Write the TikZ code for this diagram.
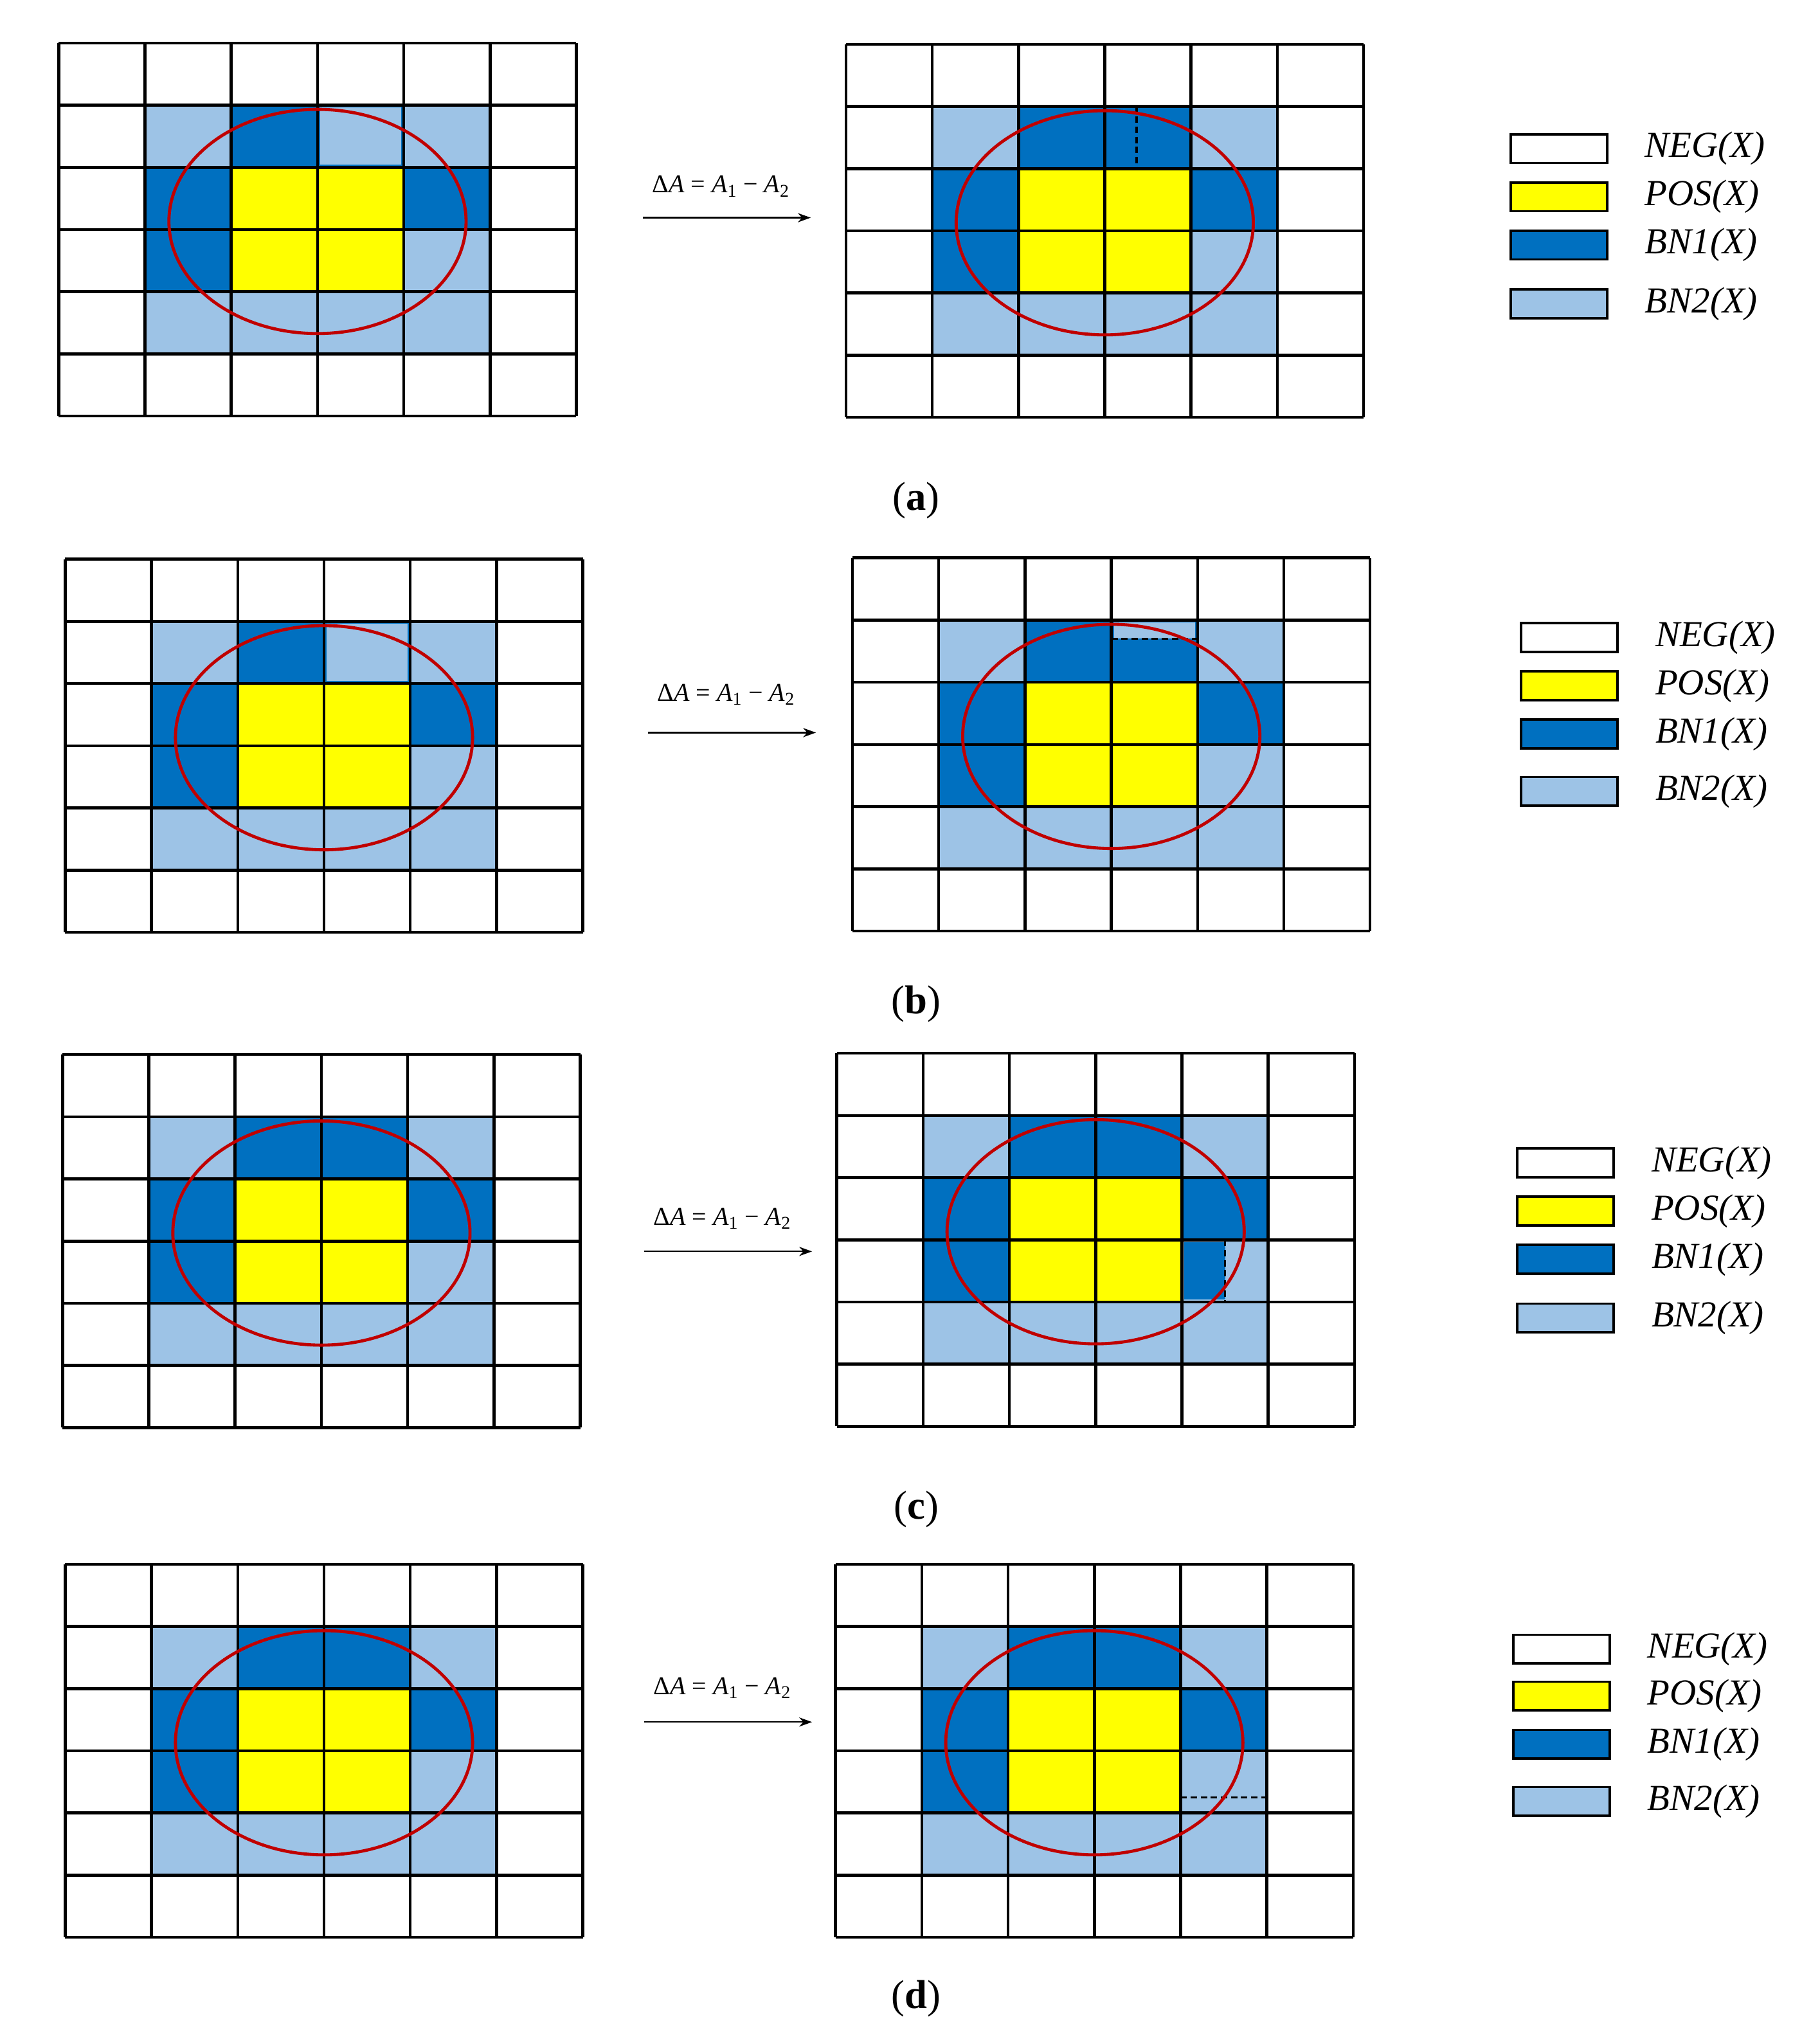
\documentclass[tikz,border=0pt]{standalone}
\usepackage{fontspec}
\setmainfont{Liberation Serif}
\usetikzlibrary{arrows.meta}
\definecolor{db}{HTML}{0070C0}
\definecolor{lb}{HTML}{9DC3E6}
\definecolor{yl}{HTML}{FFFF00}
\definecolor{rd}{HTML}{C00000}
\tikzset{
 gridline/.style={line width=3.2pt,black},
 dashline/.style={line width=2.6pt,black,dash pattern=on 7pt off 4pt},
 ell/.style={line width=3.4pt,rd},
 legbox/.style={draw,line width=2.6pt,minimum width=3.7cm,minimum height=1.1cm,inner sep=0pt},
 legtext/.style={anchor=west,font=\fontsize{40}{46}\selectfont\itshape,inner sep=0pt},
 dtext/.style={font=\fontsize{28}{32}\selectfont,inner sep=0pt},
 caption/.style={font=\fontsize{44}{50}\selectfont,inner sep=0pt},
 arr/.style={line width=1.6pt,-{Stealth[length=14pt,width=10pt]}}
}
\newcommand\panel[3]{%
\begin{scope}[shift={(#1,#2)},x={(3.31cm,0)},y={(0,-2.385cm)}]
 \fill[white] (0,0) rectangle (6,6);
 \fill[lb] (1,1) rectangle (5,5);
 \fill[db] (2,1) rectangle (4,2);
 \fill[db] (1,2) rectangle (2,4);
 \fill[db] (4,2) rectangle (5,3);
 \fill[yl] (2,2) rectangle (4,4);
 \foreach \i in {0,...,6}{\draw[gridline] (\i,0) -- (\i,6); \draw[gridline] (0,\i) -- (6,\i);}
 #3
 \draw[ell] (3,2.87) ellipse [x radius=5.7cm,y radius=4.3cm];
\end{scope}}
\newcommand\legendat[5]{%
 \node[legbox,fill=white] at (#1+37,#2) {};
 \node[legbox,fill=yl] at (#1+37,#3) {};
 \node[legbox,fill=db] at (#1+37,#4) {};
 \node[legbox,fill=lb] at (#1+37,#5) {};
 \node[legtext] at (#1+103,#2) {NEG(X)};
 \node[legtext] at (#1+103,#3) {POS(X)};
 \node[legtext] at (#1+103,#4) {BN1(X)};
 \node[legtext] at (#1+103,#5) {BN2(X)};}
\newcommand\deltaarrow[5]{%
 \node[dtext] (#1t) at (#2,#3) {Δ\textit{A} = \textit{A}\textsubscript{1} − \textit{A}\textsubscript{2}};
 \coordinate (#1s) at (#4,#5); \coordinate (#1e) at (#4+129,#5);
 \draw[arr] (#1s) -- (#1e);}
\begin{document}
\begin{tikzpicture}[x=0.05cm,y=-0.05cm]
\useasboundingbox (0,0) rectangle (1389,1568);
% (a)
\panel{45}{33}{\fill[lb] (3.03,1.04) rectangle (3.97,1.96); \draw[dashline] (3,1) rectangle (4,2);}
\panel{649}{34}{\fill[db] (3.03,1.04) rectangle (3.97,1.96); \draw[dashline] (3,1) rectangle (4,2); \draw[dashline] (3.37,1) -- (3.37,2);}
\deltaarrow{a}{553}{143}{493}{167}
\legendat{1159}{114}{151}{188}{233}
\node[caption] (ca) at (703,384) {(\textbf{a})};
% (b)
\panel{50}{429}{\fill[lb] (3.03,1.04) rectangle (3.97,1.96); \draw[dashline] (3,1) rectangle (4,2);}
\panel{654}{428}{\fill[lb] (3.03,1.04) rectangle (3.97,1.3); \fill[db] (3.03,1.3) rectangle (3.97,1.96); \draw[dashline] (3,1) rectangle (4,2); \draw[dashline] (3,1.3) -- (4,1.3);}
\deltaarrow{b}{557}{533}{497}{562}
\legendat{1167}{489}{526}{563}{607}
\node[caption] (cb) at (703,770) {(\textbf{b})};
% (c)
\panel{48}{809}{\fill[lb] (4.03,3.04) rectangle (4.97,3.96); \draw[dashline] (4,3) rectangle (5,4);}
\panel{642}{808}{\fill[db] (4.03,3.04) rectangle (4.5,3.96); \fill[lb] (4.5,3.04) rectangle (4.97,3.96); \draw[dashline] (4,3) rectangle (5,4); \draw[dashline] (4.5,3) -- (4.5,4);}
\deltaarrow{c}{554}{935}{494}{960}
\legendat{1164}{892}{929}{966}{1011}
\node[caption] (cc) at (703,1158) {(\textbf{c})};
% (d)
\panel{50}{1200}{\fill[lb] (4.03,3.04) rectangle (4.97,3.96); \draw[dashline] (4,3) rectangle (5,4);}
\panel{641}{1200}{\fill[lb] (4.03,3.04) rectangle (4.97,3.96); \draw[dashline] (4,3) rectangle (5,4); \draw[dashline] (4,3.75) -- (5,3.75);}
\deltaarrow{d}{554}{1295}{494}{1321}
\legendat{1161}{1265}{1301}{1338}{1382}
\node[caption] (cd) at (703,1533) {(\textbf{d})};
\end{tikzpicture}
\end{document}
